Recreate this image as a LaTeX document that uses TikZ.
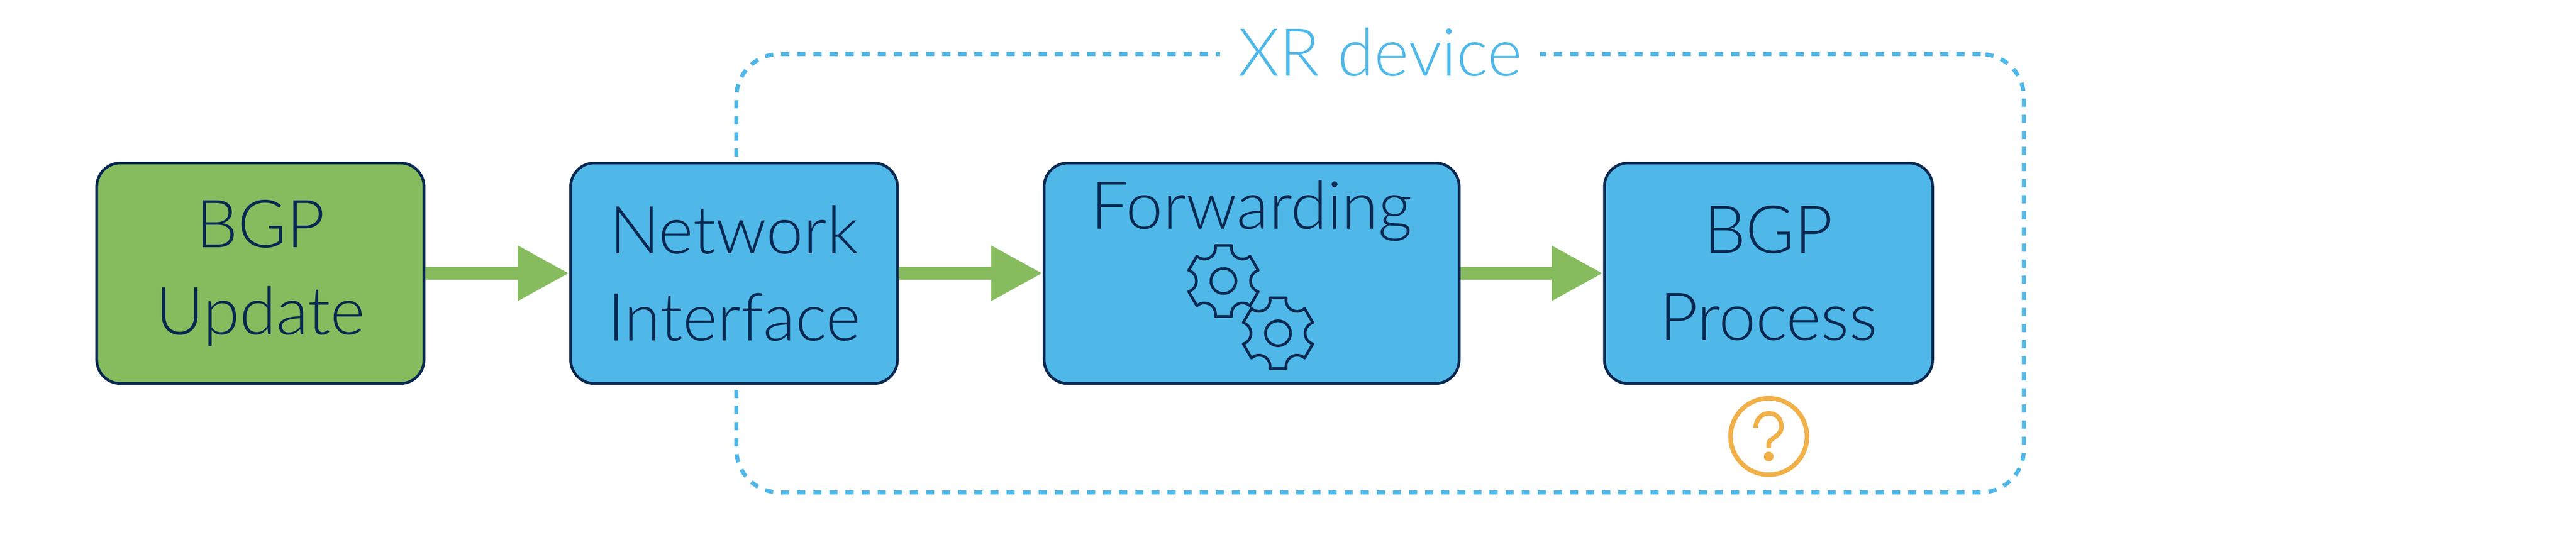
\documentclass[tikz,border=0pt]{standalone}
\usepackage{fontspec}
\setmainfont{Lato}[UprightFont=* Light]
\usetikzlibrary{arrows.meta}
\definecolor{navyline}{RGB}{7,40,80}
\definecolor{bluefill}{RGB}{79,184,232}
\definecolor{greenfill}{RGB}{134,188,94}
\definecolor{orangeline}{RGB}{241,176,72}
\tikzset{
	stagebox/.style={draw=navyline, fill=bluefill, line width=0.06cm, rounded corners=0.52cm, minimum height=4.85cm, text=navyline, align=center, font=\fontsize{41.5}{54.6}\selectfont, inner sep=0pt},
	flowarrow/.style={draw=greenfill, line width=0.29cm, -{Triangle[length=1.13cm,width=1.13cm,fill=greenfill]}},
	gearicon/.pic={
		\draw[navyline, line width=0.06cm, line join=round] (77:0.8) \foreach \a in {90,150,...,390} { -- (\a+13:0.8) .. controls (\a+14:0.56) and (\a+46:0.56) .. (\a+47:0.8)} -- cycle;
		\draw[navyline, line width=0.06cm] (0,0) circle (0.275);
	}
}

\begin{document}
\begin{tikzpicture}
				\useasboundingbox (0,0) rectangle (56.64,12.02);
				\node[draw=bluefill, line width=0.09cm, dash pattern=on 0.18cm off 0.174cm, rounded corners=0.95cm, minimum width=28.31cm, minimum height=9.64cm] (device) at (30.345,6.01) {};
				\node[fill=white, text=bluefill, font=\fontsize{41.5}{54.6}\selectfont, inner xsep=0.4cm, inner ysep=0.1cm] (devicelabel) at (device.north) {XR device};
				\node[stagebox, fill=greenfill, minimum width=7.195cm] (update) at (5.725,6.01) {BGP\\Update};
				\node[stagebox, minimum width=7.185cm] (interface) at (16.14,6.01) {Network\\Interface};
				\draw[flowarrow] (update) -- (interface);
				\node[stagebox, minimum width=9.125cm] (forwarding) at (27.52,6.01) {};
				\draw[flowarrow] (interface) -- (forwarding);
				\node[text=navyline, font=\fontsize{41.5}{54.6}\selectfont, anchor=base, inner sep=0pt] (forwardinglabel) at (27.52,6.99) {Forwarding};
				\node[stagebox, minimum width=7.215cm] (process) at (38.885,6.01) {BGP\\Process};
				\draw[flowarrow] (forwarding) -- (process);
				\pic at (26.90,5.84) {gearicon};
				\pic at (28.10,4.69) {gearicon};
				\node[circle, draw=orangeline, line width=0.1cm, minimum size=1.68cm, inner sep=0pt] (question) at (38.89,2.42) {};
				\draw[orangeline, line width=0.1cm] (38.60,2.61) .. controls (38.60,2.77) and (38.72,2.93) .. (38.89,2.93) .. controls (39.06,2.93) and (39.17,2.80) .. (39.17,2.64) .. controls (39.17,2.42) and (38.89,2.37) .. (38.89,2.27) -- (38.89,2.17);
				\fill[orangeline] (38.89,1.98) circle (0.107);
			\end{tikzpicture}
\end{document}
